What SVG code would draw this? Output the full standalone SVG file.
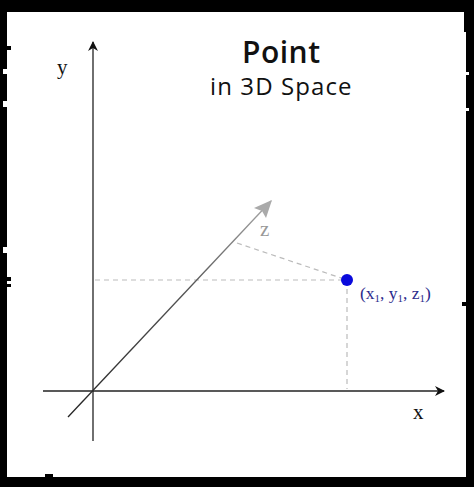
<svg xmlns="http://www.w3.org/2000/svg" width="474" height="487" viewBox="0 0 474 487">
<style>
.ax{stroke:#222;stroke-width:1.3;fill:none}
.dash{stroke:#bbb;stroke-width:1.2;stroke-dasharray:5 4;fill:none}
.lbl{font-family:"Liberation Serif",serif;font-size:21px;fill:#111}
.title{font-family:"Open Sans","Noto Sans",sans-serif;fill:#111}
</style>
<defs>
<marker id="ah" markerWidth="10" markerHeight="10" refX="9" refY="5" orient="auto" markerUnits="userSpaceOnUse" viewBox="0 0 10 10">
<path d="M0,0 L10,5 L0,10 L3,5 Z" fill="#111"/>
</marker>
<linearGradient id="zg" x1="68" y1="417" x2="272" y2="200" gradientUnits="userSpaceOnUse">
<stop offset="0" stop-color="#222"/>
<stop offset="0.6" stop-color="#555"/>
<stop offset="1" stop-color="#aaa"/>
</linearGradient>
</defs>
<g id="frame">
<rect x="0" y="0" width="474" height="487" fill="#000"/>
<rect x="7" y="12" width="459" height="465" fill="#fff"/>
<rect x="3" y="69" width="4" height="5" fill="#fff"/>
<rect x="3" y="101" width="4" height="6" fill="#fff"/>
<rect x="3" y="247" width="4" height="6" fill="#fff"/>
<rect x="7" y="277" width="4" height="4" fill="#000"/>
<rect x="7" y="284" width="4" height="3" fill="#000"/>
<rect x="7" y="46" width="4" height="4" fill="#000"/>
<rect x="464" y="12" width="3" height="20" fill="#000"/>
<rect x="466" y="72" width="3" height="3" fill="#fff"/>
<rect x="466" y="108" width="3" height="3" fill="#fff"/>
<rect x="462" y="302" width="4" height="4" fill="#000"/>
<rect x="45" y="474" width="8" height="3" fill="#000"/>
</g>
<g id="connectors">
<line class="dash" x1="95" y1="280" x2="347" y2="280"/>
<line class="dash" x1="347" y1="280" x2="347" y2="389"/>
<line class="dash" x1="237" y1="243" x2="347" y2="280"/>
<line class="ax" x1="93" y1="441" x2="93" y2="42" marker-end="url(#ah)"/>
<line class="ax" x1="43" y1="391" x2="444" y2="391" marker-end="url(#ah)"/>
<line x1="68" y1="417" x2="271" y2="201" stroke="url(#zg)" stroke-width="1.3"/>
<path d="M272,200 L266,218 L262,211 L254,208 Z" fill="#aaa"/>
</g>
<g id="title">
<text class="title" x="242" y="63" font-size="30" font-weight="600" letter-spacing="0.5">Point</text>
<text class="title" x="210" y="95" font-size="24" font-weight="500" letter-spacing="1.1">in 3D Space</text>
</g>
<g id="labels">
<text class="lbl" x="57" y="74">y</text>
<text class="lbl" x="413" y="419">x</text>
<text class="lbl" x="260" y="236" style="fill:#999">z</text>
</g>
<g id="point">
<circle cx="347" cy="280" r="6" fill="#0a0adc"/>
<text x="360" y="299" font-family="Liberation Serif,serif" font-size="17.5" fill="#2b2b8c">(x<tspan font-size="11" dy="3">1</tspan><tspan dy="-3">, y</tspan><tspan font-size="11" dy="3">1</tspan><tspan dy="-3">, z</tspan><tspan font-size="11" dy="3">1</tspan><tspan dy="-3">)</tspan></text>
</g>
</svg>
